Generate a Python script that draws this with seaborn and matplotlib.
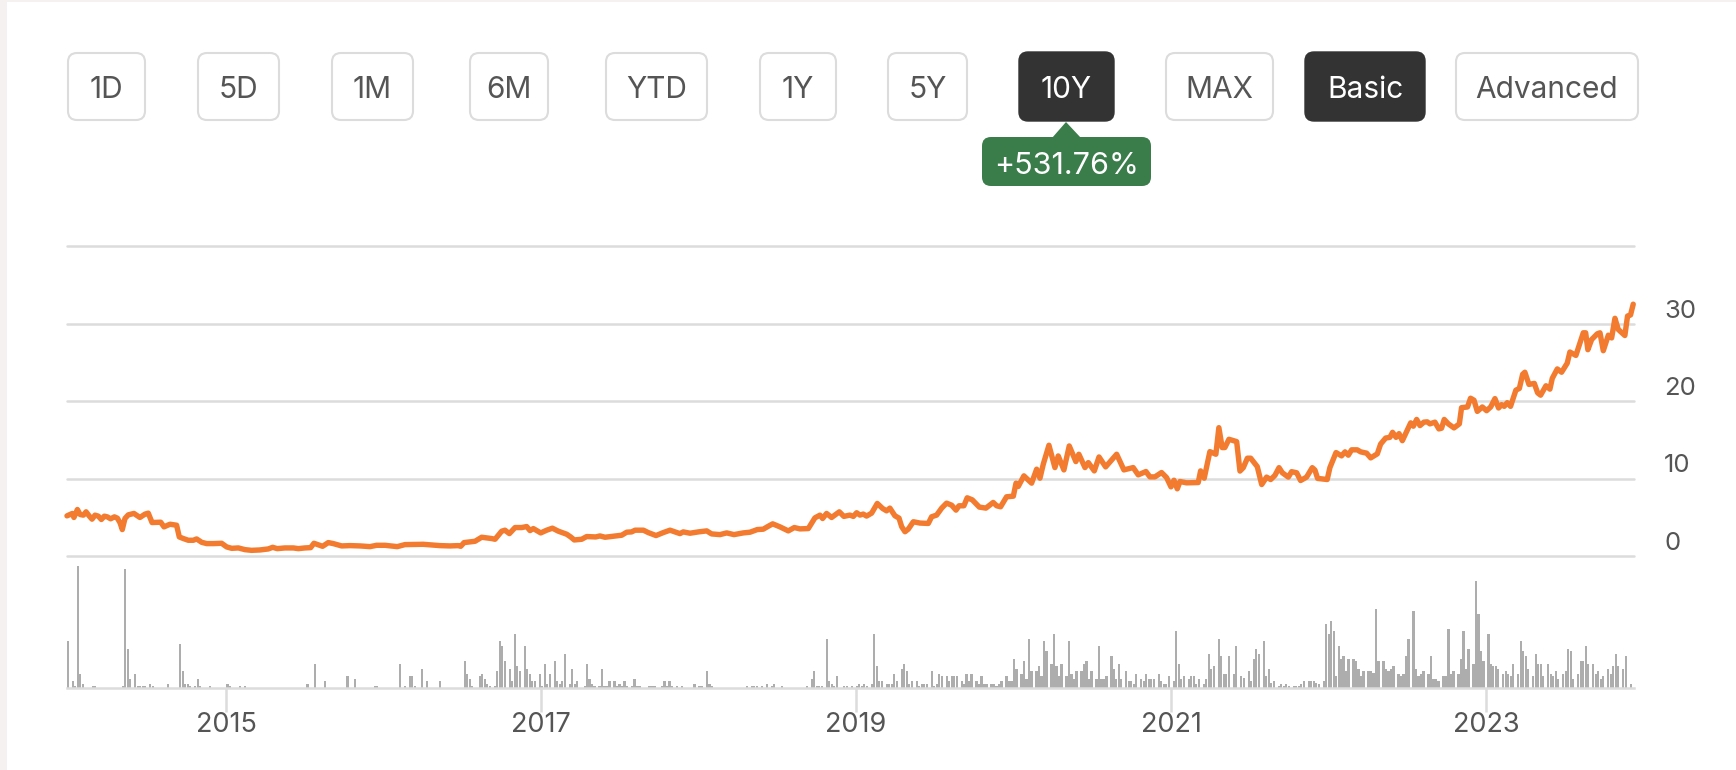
import numpy as np
import matplotlib
matplotlib.use("Agg")
import matplotlib.pyplot as plt
from matplotlib.patches import FancyBboxPatch, Polygon, Rectangle
import seaborn as sns

W, H = 1736, 770

# price line (decimal year, price)
price_years = [
    2014.00, 2014.02, 2014.034, 2014.044, 2014.066, 2014.083, 2014.104, 2014.121, 2014.142, 2014.159,
    2014.178, 2014.199, 2014.218, 2014.237, 2014.256, 2014.277, 2014.301, 2014.320, 2014.337, 2014.351,
    2014.368, 2014.389, 2014.425, 2014.463, 2014.495, 2014.516, 2014.540, 2014.595, 2014.616, 2014.654,
    2014.696, 2014.713, 2014.739, 2014.770, 2014.802, 2014.823, 2014.855, 2014.887, 2014.929, 2014.982,
    2015.014, 2015.046, 2015.088, 2015.130, 2015.172, 2015.225, 2015.278, 2015.306, 2015.335, 2015.384,
    2015.437, 2015.469, 2015.511, 2015.547, 2015.568, 2015.623, 2015.659, 2015.691, 2015.744, 2015.797,
    2015.860, 2015.924, 2015.966, 2016.019, 2016.097, 2016.146, 2016.262, 2016.368, 2016.432, 2016.485,
    2016.500, 2016.521, 2016.591, 2016.633, 2016.697, 2016.718, 2016.760, 2016.781, 2016.809, 2016.845,
    2016.887, 2016.919, 2016.940, 2016.961, 2017.008, 2017.046, 2017.082, 2017.120, 2017.173, 2017.198,
    2017.221, 2017.268, 2017.300, 2017.357, 2017.384, 2017.416, 2017.469, 2017.522, 2017.554, 2017.585,
    2017.607, 2017.660, 2017.691, 2017.740, 2017.786, 2017.829, 2017.892, 2017.913, 2017.956, 2018.009,
    2018.062, 2018.093, 2018.146, 2018.189, 2018.235, 2018.294, 2018.337, 2018.383, 2018.421, 2018.453,
    2018.481, 2018.527, 2018.580, 2018.618, 2018.654, 2018.707, 2018.749, 2018.781, 2018.798, 2018.823,
    2018.855, 2018.904, 2018.933, 2018.971, 2018.993, 2019.014, 2019.035, 2019.056, 2019.077, 2019.109,
    2019.145, 2019.179, 2019.204, 2019.225, 2019.257, 2019.283, 2019.300, 2019.321, 2019.342, 2019.374,
    2019.416, 2019.469, 2019.490, 2019.522, 2019.554, 2019.585, 2019.617, 2019.645, 2019.664, 2019.695,
    2019.716, 2019.748, 2019.793, 2019.835, 2019.881, 2019.903, 2019.928, 2019.966, 2020.009, 2020.026,
    2020.040, 2020.076, 2020.125, 2020.157, 2020.178, 2020.199, 2020.235, 2020.273, 2020.294, 2020.330,
    2020.364, 2020.406, 2020.425, 2020.464, 2020.485, 2020.523, 2020.553, 2020.595, 2020.665, 2020.711,
    2020.770, 2020.802, 2020.851, 2020.876, 2020.908, 2020.950, 2020.982, 2021.010, 2021.029, 2021.050,
    2021.067, 2021.109, 2021.183, 2021.198, 2021.221, 2021.257, 2021.295, 2021.314, 2021.335, 2021.352,
    2021.378, 2021.427, 2021.448, 2021.469, 2021.495, 2021.516, 2021.558, 2021.586, 2021.617, 2021.643,
    2021.670, 2021.696, 2021.717, 2021.755, 2021.776, 2021.808, 2021.833, 2021.871, 2021.907, 2021.924,
    2021.941, 2022.002, 2022.019, 2022.058, 2022.093, 2022.115, 2022.136, 2022.157, 2022.193, 2022.214,
    2022.252, 2022.278, 2022.320, 2022.341, 2022.373, 2022.400, 2022.417, 2022.439, 2022.458, 2022.479,
    2022.532, 2022.549, 2022.570, 2022.591, 2022.616, 2022.637, 2022.654, 2022.686, 2022.711, 2022.728,
    2022.745, 2022.771, 2022.807, 2022.841, 2022.855, 2022.893, 2022.912, 2022.934, 2022.955, 2022.987,
    2023.014, 2023.040, 2023.067, 2023.090, 2023.109, 2023.126, 2023.145, 2023.166, 2023.200, 2023.222,
    2023.243, 2023.257, 2023.283, 2023.317, 2023.338, 2023.357, 2023.391, 2023.416, 2023.431, 2023.463,
    2023.490, 2023.526, 2023.543, 2023.581, 2023.628, 2023.643, 2023.657, 2023.681, 2023.717, 2023.734,
    2023.755, 2023.787, 2023.808, 2023.829, 2023.850, 2023.892, 2023.909, 2023.928, 2023.945,
]
price_values = [
    5.18, 5.36, 5.49, 4.97, 6.00, 5.36, 5.27, 5.70, 5.14, 4.75,
    5.27, 5.14, 4.71, 5.14, 5.05, 4.80, 5.05, 4.88, 4.28, 3.41,
    4.84, 5.31, 5.49, 4.97, 5.40, 5.53, 4.32, 4.36, 3.76, 4.10,
    3.97, 2.46, 2.25, 2.03, 2.03, 2.20, 1.77, 1.60, 1.60, 1.64,
    1.17, 0.99, 1.04, 0.82, 0.73, 0.78, 0.91, 1.12, 0.95, 1.04,
    1.04, 0.95, 1.04, 1.08, 1.64, 1.25, 1.73, 1.60, 1.30, 1.34,
    1.30, 1.21, 1.38, 1.38, 1.21, 1.47, 1.51, 1.34, 1.30, 1.34,
    1.25, 1.73, 1.90, 2.42, 2.25, 2.16, 3.20, 3.33, 2.89, 3.67,
    3.67, 3.80, 3.28, 3.54, 2.98, 3.33, 3.59, 3.20, 2.81, 2.46,
    2.07, 2.16, 2.51, 2.46, 2.59, 2.42, 2.55, 2.68, 3.07, 3.11,
    3.33, 3.33, 3.02, 2.64, 3.02, 3.33, 2.89, 3.11, 2.94, 3.11,
    3.24, 2.85, 2.76, 2.98, 2.76, 2.98, 3.07, 3.41, 3.46, 3.84,
    4.15, 3.76, 3.24, 3.67, 3.50, 3.54, 4.92, 5.27, 4.84, 5.49,
    4.97, 5.70, 5.11, 5.28, 5.11, 5.58, 5.28, 5.41, 5.15, 5.53,
    6.78, 6.13, 5.83, 6.18, 5.19, 4.89, 3.78, 3.13, 3.47, 4.42,
    4.25, 4.20, 5.06, 5.28, 6.18, 6.82, 6.56, 5.92, 6.48, 6.48,
    7.51, 7.25, 6.31, 6.18, 6.91, 6.48, 6.35, 7.64, 7.72, 9.40,
    8.97, 10.34, 9.40, 11.20, 10.04, 11.84, 14.29, 11.41, 12.91, 11.11,
    14.20, 12.18, 13.13, 11.41, 12.05, 10.98, 12.78, 11.50, 13.13, 11.11,
    11.41, 10.47, 10.90, 10.21, 10.21, 10.77, 10.12, 8.92, 9.78, 8.67,
    9.61, 9.44, 9.48, 10.98, 10.04, 13.47, 13.13, 16.56, 13.99, 13.99,
    15.06, 14.76, 10.96, 11.40, 12.62, 12.62, 11.53, 9.22, 10.18, 9.87,
    10.40, 11.40, 10.74, 10.18, 10.88, 10.74, 9.74, 10.18, 11.40, 11.09,
    10.01, 9.87, 11.40, 13.35, 12.92, 13.44, 13.01, 13.70, 13.70, 13.44,
    13.27, 12.66, 13.18, 14.44, 15.22, 15.31, 15.96, 15.31, 15.79, 14.88,
    17.18, 16.75, 17.62, 16.83, 17.27, 17.31, 17.05, 17.27, 16.40, 16.49,
    17.62, 17.05, 16.53, 17.05, 19.14, 19.23, 20.36, 20.10, 18.66, 19.23,
    18.75, 19.23, 20.31, 19.10, 19.53, 19.31, 19.79, 19.31, 21.40, 21.62,
    23.45, 23.71, 22.14, 22.27, 21.05, 20.75, 21.97, 21.53, 22.92, 24.14,
    23.71, 24.88, 26.32, 25.88, 28.80, 28.80, 26.62, 27.93, 28.67, 28.80,
    26.49, 28.49, 28.14, 30.67, 29.23, 28.45, 30.97, 31.10, 32.49,
]

# volume bars, oldest first, in arbitrary units
volume_values = [
    47, 0, 7, 2, 122, 14, 4, 0, 0, 0, 2, 2, 0, 0, 0, 0, 0, 0, 0, 0,
    0, 0, 2, 119, 39, 9, 0, 14, 2, 2, 2, 2, 0, 4, 2, 0, 0, 0, 0, 0,
    4, 0, 0, 0, 0, 44, 17, 4, 4, 2, 0, 2, 9, 2, 0, 0, 0, 2, 0, 0,
    0, 0, 0, 0, 4, 2, 0, 0, 0, 2, 0, 2, 0, 0, 0, 0, 0, 0, 0, 0,
    0, 0, 0, 0, 0, 0, 0, 0, 0, 0, 0, 0, 0, 0, 0, 0, 4, 0, 0, 24,
    0, 0, 0, 7, 0, 0, 0, 0, 0, 0, 0, 0, 12, 0, 0, 9, 0, 0, 0, 0,
    0, 0, 0, 2, 2, 0, 0, 0, 0, 0, 0, 0, 0, 24, 0, 2, 0, 12, 12, 2,
    0, 0, 19, 0, 7, 0, 0, 0, 0, 7, 0, 0, 0, 0, 0, 0, 0, 0, 0, 27,
    14, 9, 2, 0, 0, 12, 14, 9, 4, 2, 0, 2, 17, 47, 42, 27, 0, 19, 7, 54,
    22, 17, 0, 42, 19, 14, 7, 7, 0, 14, 2, 24, 4, 14, 0, 27, 7, 4, 7, 34,
    0, 4, 19, 4, 7, 0, 0, 2, 24, 9, 4, 2, 0, 2, 19, 2, 2, 7, 0, 7,
    2, 4, 2, 7, 2, 0, 2, 9, 2, 2, 0, 0, 0, 2, 2, 2, 0, 0, 2, 7,
    2, 7, 2, 0, 2, 0, 2, 0, 0, 0, 0, 4, 0, 2, 2, 0, 17, 4, 2, 0,
    0, 0, 0, 0, 0, 0, 0, 0, 0, 0, 0, 0, 2, 0, 2, 2, 2, 0, 2, 0,
    4, 0, 2, 4, 0, 0, 2, 0, 0, 0, 0, 0, 0, 0, 0, 0, 2, 0, 9, 17,
    2, 2, 2, 0, 49, 7, 4, 2, 12, 0, 0, 2, 2, 0, 2, 0, 2, 4, 2, 4,
    2, 0, 4, 54, 22, 7, 7, 0, 4, 4, 4, 14, 7, 0, 19, 24, 17, 4, 7, 0,
    7, 2, 4, 4, 4, 0, 17, 2, 4, 14, 12, 0, 12, 7, 12, 12, 12, 0, 7, 4,
    14, 7, 14, 0, 7, 4, 12, 4, 4, 0, 4, 4, 2, 4, 7, 0, 12, 7, 7, 29,
    19, 0, 14, 27, 9, 49, 17, 0, 17, 22, 12, 47, 37, 0, 24, 54, 22, 12, 24, 0,
    12, 47, 14, 9, 17, 0, 17, 24, 27, 9, 17, 0, 9, 42, 9, 9, 12, 0, 32, 19,
    9, 24, 9, 0, 17, 7, 7, 4, 14, 0, 9, 7, 14, 9, 9, 9, 0, 14, 7, 4,
    4, 12, 0, 7, 57, 24, 9, 12, 0, 9, 12, 12, 4, 9, 0, 4, 9, 34, 19, 22,
    0, 49, 32, 14, 14, 32, 0, 14, 42, 0, 12, 10, 0, 17, 7, 29, 39, 34, 0, 47,
    12, 19, 5, 7, 0, 2, 4, 2, 4, 2, 0, 2, 2, 2, 4, 7, 0, 7, 7, 7,
    5, 4, 0, 7, 64, 54, 67, 57, 12, 42, 29, 32, 17, 29, 0, 29, 27, 19, 12, 17,
    0, 17, 17, 15, 79, 27, 0, 27, 19, 17, 19, 22, 0, 14, 12, 14, 32, 49, 0, 77,
    19, 12, 14, 17, 0, 14, 32, 9, 9, 7, 0, 12, 12, 59, 14, 17, 0, 14, 29, 57,
    19, 39, 0, 24, 107, 74, 37, 27, 0, 54, 24, 22, 22, 19, 0, 14, 17, 14, 12, 24,
    0, 14, 47, 37, 32, 19, 0, 12, 34, 24, 24, 12, 0, 24, 14, 12, 17, 9, 0, 14,
    17, 39, 37, 9, 0, 14, 27, 27, 42, 24, 0, 24, 14, 17, 9, 12, 0, 19, 14, 22,
    34, 22, 0, 19, 32, 0, 4,
]

price_ticks = [0, 10, 20, 30]
grid_levels = [0, 10, 20, 30, 40]
year_ticks = [2015.01, 2017.01, 2019.01, 2021.01, 2023.01]
year_labels = ["2015", "2017", "2019", "2021", "2023"]

# range buttons: label, left, right, active
buttons = [
    ("1D", 67, 146, False), ("5D", 197, 280, False), ("1M", 331, 414, False),
    ("6M", 469, 549, False), ("YTD", 605, 708, False), ("1Y", 759, 837, False),
    ("5Y", 887, 968, False), ("10Y", 1019, 1114, True), ("MAX", 1165, 1274, False),
    ("Basic", 1305, 1425, True), ("Advanced", 1455, 1639, False),
]
change_label = "+531.76%"

GRID = "#dcdcdc"
TEXT = "#555555"
ORANGE = "#f27b30"
BAR = "#adadad"
DARK = "#333333"
GREEN = "#3a7d4b"


def px_axes(fig, left, top, right, bottom):
    return fig.add_axes([left / W, 1 - bottom / H, (right - left) / W, (bottom - top) / H])


def rounded(ax, x0, y0, x1, y1, radius, **kwargs):
    ax.add_patch(FancyBboxPatch((x0 + radius, y0 + radius), x1 - x0 - 2 * radius, y1 - y0 - 2 * radius,
                                boxstyle=f"round,pad={radius},rounding_size={radius}", **kwargs))


sns.set_theme(style="white")
plt.rcParams["font.family"] = ["Inter", "DejaVu Sans"]

fig = plt.figure(figsize=(W / 100, H / 100), dpi=100, facecolor="white")

# page furniture and the buttons
ax_ui = px_axes(fig, 0, 0, W, H)
ax_ui.set_xlim(0, W)
ax_ui.set_ylim(H, 0)
ax_ui.axis("off")
ax_ui.add_patch(Rectangle((0, 0), 7, H, facecolor="#f6f1f1", edgecolor="none"))
ax_ui.add_patch(Rectangle((0, 0), W, 1.5, facecolor="#f6f1f1", edgecolor="none"))

for label, x0, x1, active in buttons:
    if active:
        rounded(ax_ui, x0, 52, x1, 121, 9, facecolor=DARK, edgecolor=DARK, linewidth=1)
    else:
        rounded(ax_ui, x0 + 1, 53, x1 - 1, 120, 9, facecolor="white", edgecolor=GRID, linewidth=1.5)
    ax_ui.text((x0 + x1) / 2, 90.5, label, ha="center", va="center", fontsize=21.5,
               color="white" if active else TEXT)

rounded(ax_ui, 982, 137, 1151, 186, 9, facecolor=GREEN, edgecolor="none")
ax_ui.add_patch(Polygon([(1052, 138), (1066, 122), (1081, 138)], facecolor=GREEN, edgecolor="none"))
ax_ui.text(1066.5, 166, change_label, ha="center", va="center", fontsize=22, color="white")

# price panel
ax_price = px_axes(fig, 67, 246, 1634, 556)
ax_price.patch.set_alpha(0)
for level in grid_levels:
    ax_price.axhline(level, color=GRID, linewidth=1.8, zorder=1, clip_on=False)
sns.lineplot(x=price_years, y=price_values, color=ORANGE, linewidth=3.9, estimator=None, errorbar=None,
             solid_joinstyle="round", solid_capstyle="round", ax=ax_price, zorder=3, clip_on=False)
ax_price.set_xlim(2014, 2023.95)
ax_price.set_ylim(0, 40)
ax_price.set_xticks([])
ax_price.set_yticks([])
ax_price.set_xlabel("")
ax_price.set_ylabel("")
sns.despine(ax=ax_price, left=True, bottom=True)

for tick in price_ticks:
    ax_price.annotate(str(tick), xy=(1, tick), xycoords=ax_price.get_yaxis_transform(),
                      xytext=(30, 12.5), textcoords="offset pixels",
                      ha="left", va="center", fontsize=18.5, color=TEXT)

# volume panel
ax_vol = px_axes(fig, 67, 565, 1634, 688)
ax_vol.patch.set_alpha(0)
vol_years = 2014.005 + np.arange(len(volume_values)) * (9.94 / len(volume_values))
sns.barplot(x=vol_years, y=volume_values, native_scale=True, color=BAR, saturation=1, width=0.88,
            linewidth=0, errorbar=None, ax=ax_vol)
ax_vol.set_xlim(2014, 2023.95)
ax_vol.set_ylim(0, 123)
ax_vol.set_yticks([])
ax_vol.set_xlabel("")
ax_vol.set_ylabel("")
ax_vol.set_xticks(year_ticks)
ax_vol.set_xticklabels(year_labels)
ax_vol.tick_params(axis="x", length=17, width=1.8, color=GRID, labelsize=19.5, labelcolor=TEXT, pad=0, bottom=True)
sns.despine(ax=ax_vol, left=True)
ax_vol.spines["bottom"].set_color(GRID)
ax_vol.spines["bottom"].set_linewidth(1.8)

fig.savefig("out.png", dpi=100, facecolor="white")
